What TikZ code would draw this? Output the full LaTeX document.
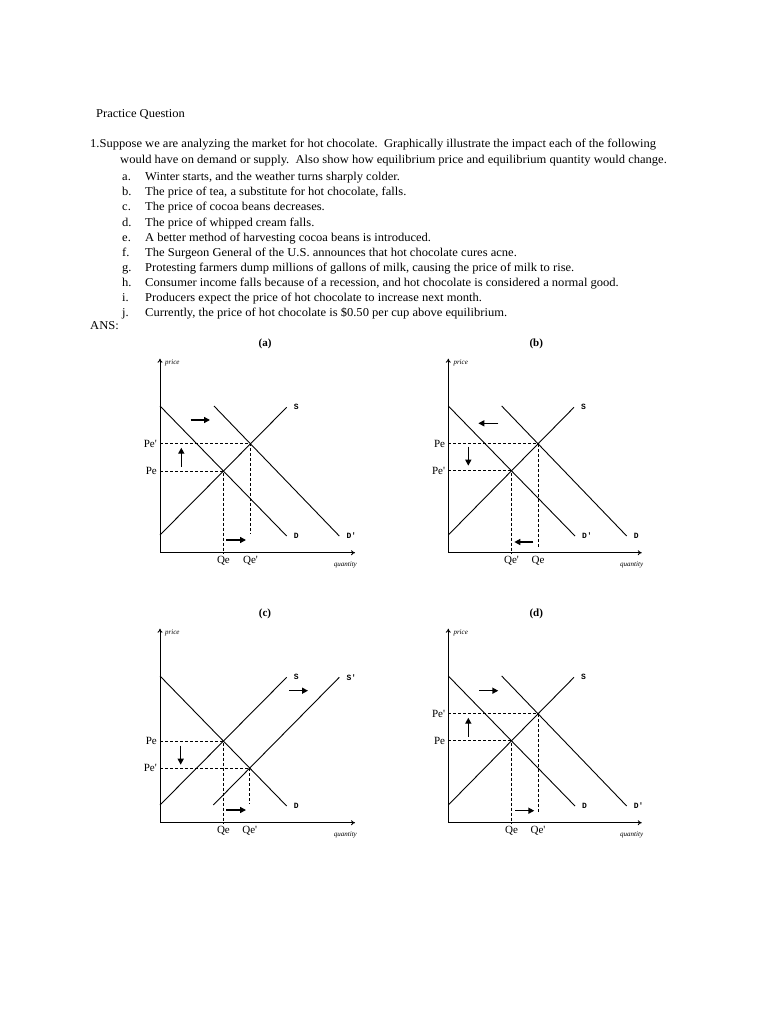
\documentclass[tikz,border=0pt]{standalone}
\usepackage{fontspec}
\setmainfont{Liberation Serif}
\newfontfamily\bodyfont[FakeStretch=1.045]{Liberation Serif}
\newfontfamily\labfont{Liberation Mono}
\usetikzlibrary{arrows.meta,calc,intersections}
\begin{document}
\begin{tikzpicture}[x=1pt,y=-1pt,
  txt/.style={anchor=base west,inner sep=0pt,font=\bodyfont\fontsize{12}{14}\selectfont},
  axisline/.style={line width=0.9pt,{To[length=4pt,width=5pt]}-{To[length=4pt,width=5pt]}},
  curve/.style={line width=0.9pt},
  dshline/.style={line width=0.7pt,dash pattern=on 3pt off 2pt},
  shiftarrow/.style={line width=1.4pt,-{Triangle[length=6pt,width=6pt]}},
  plab/.style={inner sep=0pt,font=\fontsize{11}{12}\selectfont},
  clab/.style={inner sep=0pt,anchor=west,font=\labfont\bfseries\fontsize{8}{8}\selectfont},
  alab/.style={inner sep=0pt,font=\itshape\fontsize{7}{7}\selectfont},
  ttl/.style={inner sep=0pt,font=\bfseries\fontsize{11}{12}\selectfont}]
\useasboundingbox (0,0) rectangle (768,1024);
\fill[white] (0,0) rectangle (768,1024);

% ---------- text ----------
\node[txt] (t0) at (96,118) {Practice Question};
\node[txt] (t1) at (90,147.5) {1.Suppose we are analyzing the market for hot chocolate.\ \ Graphically illustrate the impact each of the following};
\node[txt] (t2) at (120,164) {would have on demand or supply.\ \ Also show how equilibrium price and equilibrium quantity would change.};
\node[txt] (la) at (122,181) {a.};
\node[txt] (ia) at (145,181) {Winter starts, and the weather turns sharply colder.};
\node[txt] (lb) at (122,196) {b.};
\node[txt] (ib) at (145,196) {The price of tea, a substitute for hot chocolate, falls.};
\node[txt] (lc) at (122,211) {c.};
\node[txt] (ic) at (145,211) {The price of cocoa beans decreases.};
\node[txt] (ld) at (122,226) {d.};
\node[txt] (id) at (145,226) {The price of whipped cream falls.};
\node[txt] (le) at (122,241) {e.};
\node[txt] (ie) at (145,241) {A better method of harvesting cocoa beans is introduced.};
\node[txt] (lf) at (122,256) {f.};
\node[txt] (if) at (145,256) {The Surgeon General of the U.S. announces that hot chocolate cures acne.};
\node[txt] (lg) at (122,271) {g.};
\node[txt] (ig) at (145,271) {Protesting farmers dump millions of gallons of milk, causing the price of milk to rise.};
\node[txt] (lh) at (122,286) {h.};
\node[txt] (ih) at (145,286) {Consumer income falls because of a recession, and hot chocolate is considered a normal good.};
\node[txt] (li) at (122,301) {i.};
\node[txt] (ii) at (145,301) {Producers expect the price of hot chocolate to increase next month.};
\node[txt] (lj) at (122,316) {j.};
\node[txt] (ij) at (145,316) {Currently, the price of hot chocolate is \$0.50 per cup above equilibrium.};
\node[txt] (ans) at (90,329) {ANS:};

% ---------- graph (a) ----------
\begin{scope}[shift={(160,552.7)},y=1pt]
\coordinate (aO) at (0,0);
\coordinate (aYt) at (0,194);
\coordinate (aXr) at (195,0);
\draw[axisline] (aYt) -- (aO) -- (aXr);
\coordinate (aD1) at (0,146.7); \coordinate (aD2) at (126.7,16.7);
\coordinate (aE1) at (54,146.7); \coordinate (aE2) at (179.3,16.7);
\coordinate (aS1) at (0,17.7); \coordinate (aS2) at (126.7,145.4);
\draw[curve,name path=aD] (aD1) -- (aD2);
\draw[curve,name path=aE] (aE1) -- (aE2);
\draw[curve,name path=aS] (aS1) -- (aS2);
\path[name intersections={of=aD and aS,by=aQ1}];
\path[name intersections={of=aE and aS,by=aQ2}];
\draw[dshline] (aQ1 -| aO) -- (aQ1) -- (aQ1 |- aO);
\draw[dshline] (aQ2 -| aO) -- (aQ2) -- ($(aQ2 |- aO)+(0,19)$);
\node[plab,anchor=east] (aPe) at ($(aQ1 -| aO)+(-3,0)$) {Pe};
\node[plab,anchor=east] (aPe2) at ($(aQ2 -| aO)+(-3,0)$) {Pe\textquotesingle};
\node[plab,anchor=north] (aQe) at ($(aQ1 |- aO)+(0,-3)$) {Qe};
\node[plab,anchor=north] (aQe2) at ($(aQ2 |- aO)+(0,-3)$) {Qe\textquotesingle};
\node[clab] (aDl) at ($(aD2)+(7,0)$) {D};
\node[clab] (aEl) at ($(aE2)+(7,0)$) {D\textquotesingle};
\node[clab] (aSl) at ($(aS2)+(7,0)$) {S};
\node[alab,anchor=west] (apr) at (5,190) {price};
\node[alab,anchor=east] (aqu) at (197,-12) {quantity};
\node[ttl] (attl) at (105,209) {(a)};
\coordinate (aA1s) at (30.7,132.7); \coordinate (aA1e) at (50,132.7);
\draw[shiftarrow] (aA1s) -- (aA1e);
\coordinate (aA2s) at (21.3,86); \coordinate (aA2e) at (21.3,105);
\draw[shiftarrow] (aA2s) -- (aA2e);
\coordinate (aA3s) at (66,12.7); \coordinate (aA3e) at (86,12.7);
\draw[shiftarrow] (aA3s) -- (aA3e);
\end{scope}

% ---------- graph (b) ----------
\begin{scope}[shift={(448.3,552.7)},y=1pt]
\coordinate (bO) at (0,0);
\coordinate (bYt) at (0,194);
\coordinate (bXr) at (193.4,0);
\draw[axisline] (bYt) -- (bO) -- (bXr);
\coordinate (bD1) at (0,146.7); \coordinate (bD2) at (126.7,16.7);
\coordinate (bE1) at (53.4,146.7); \coordinate (bE2) at (178.4,16.7);
\coordinate (bS1) at (0,17.7); \coordinate (bS2) at (125.7,145.4);
\draw[curve,name path=bD] (bD1) -- (bD2);
\draw[curve,name path=bE] (bE1) -- (bE2);
\draw[curve,name path=bS] (bS1) -- (bS2);
\path[name intersections={of=bD and bS,by=bQ1}];
\path[name intersections={of=bE and bS,by=bQ2}];
\draw[dshline] (bQ1 -| bO) -- (bQ1) -- (bQ1 |- bO);
\draw[dshline] (bQ2 -| bO) -- (bQ2) -- ($(bQ2 |- bO)+(0,6)$);
\node[plab,anchor=east] (bPe) at ($(bQ2 -| bO)+(-3,0)$) {Pe};
\node[plab,anchor=east] (bPe2) at ($(bQ1 -| bO)+(-3,0)$) {Pe\textquotesingle};
\node[plab,anchor=north] (bQe) at ($(bQ2 |- bO)+(0,-3)$) {Qe};
\node[plab,anchor=north] (bQe2) at ($(bQ1 |- bO)+(0,-3)$) {Qe\textquotesingle};
\node[clab] (bDl) at ($(bD2)+(7,0)$) {D\textquotesingle};
\node[clab] (bEl) at ($(bE2)+(7,0)$) {D};
\node[clab] (bSl) at ($(bS2)+(7,0)$) {S};
\node[alab,anchor=west] (bpr) at (5,190) {price};
\node[alab,anchor=east] (bqu) at (195,-12) {quantity};
\node[ttl] (bttl) at (88,209) {(b)};
\coordinate (bA1s) at (50,129.4); \coordinate (bA1e) at (30,129.4);
\draw[shiftarrow] (bA1s) -- (bA1e);
\coordinate (bA2s) at (20,106); \coordinate (bA2e) at (20,87);
\draw[shiftarrow] (bA2s) -- (bA2e);
\coordinate (bA3s) at (85,10.7); \coordinate (bA3e) at (66,10.7);
\draw[shiftarrow] (bA3s) -- (bA3e);
\end{scope}

% ---------- graph (c) ----------
\begin{scope}[shift={(160,822.7)},y=1pt]
\coordinate (cO) at (0,0);
\coordinate (cYt) at (0,194);
\coordinate (cXr) at (195,0);
\draw[axisline] (cYt) -- (cO) -- (cXr);
\coordinate (cD1) at (0,146.7); \coordinate (cD2) at (126.7,16.7);
\coordinate (cS1) at (0,17.7); \coordinate (cS2) at (126.7,145.4);
\coordinate (cT1) at (53.3,17.7); \coordinate (cT2) at (179.3,145.4);
\draw[curve,name path=cD] (cD1) -- (cD2);
\draw[curve,name path=cS] (cS1) -- (cS2);
\draw[curve,name path=cT] (cT1) -- (cT2);
\path[name intersections={of=cD and cS,by=cQ1}];
\path[name intersections={of=cD and cT,by=cQ2}];
\draw[dshline] (cQ1 -| cO) -- (cQ1) -- (cQ1 |- cO);
\draw[dshline] (cQ2 -| cO) -- (cQ2) -- ($(cQ2 |- cO)+(0,19)$);
\node[plab,anchor=east] (cPe) at ($(cQ1 -| cO)+(-3,0)$) {Pe};
\node[plab,anchor=east] (cPe2) at ($(cQ2 -| cO)+(-3,0)$) {Pe\textquotesingle};
\node[plab,anchor=north] (cQe) at ($(cQ1 |- cO)+(0,-3)$) {Qe};
\node[plab,anchor=north] (cQe2) at ($(cQ2 |- cO)+(0,-3)$) {Qe\textquotesingle};
\node[clab] (cDl) at ($(cD2)+(7,0)$) {D};
\node[clab] (cSl) at ($(cS2)+(7,0)$) {S};
\node[clab] (cTl) at ($(cT2)+(7,0)$) {S\textquotesingle};
\node[alab,anchor=west] (cpr) at (5,190) {price};
\node[alab,anchor=east] (cqu) at (197,-12) {quantity};
\node[ttl] (cttl) at (105,209) {(c)};
\coordinate (cA1s) at (129,132); \coordinate (cA1e) at (148,132);
\draw[shiftarrow] (cA1s) -- (cA1e);
\coordinate (cA2s) at (20.7,77); \coordinate (cA2e) at (20.7,58);
\draw[shiftarrow] (cA2s) -- (cA2e);
\coordinate (cA3s) at (66,12.7); \coordinate (cA3e) at (86,12.7);
\draw[shiftarrow] (cA3s) -- (cA3e);
\end{scope}

% ---------- graph (d) ----------
\begin{scope}[shift={(448.3,822.7)},y=1pt]
\coordinate (dO) at (0,0);
\coordinate (dYt) at (0,194);
\coordinate (dXr) at (193.4,0);
\draw[axisline] (dYt) -- (dO) -- (dXr);
\coordinate (dD1) at (0,146.7); \coordinate (dD2) at (126.7,16.7);
\coordinate (dE1) at (53.4,146.7); \coordinate (dE2) at (178.4,16.7);
\coordinate (dS1) at (0,17.7); \coordinate (dS2) at (125.7,145.4);
\draw[curve,name path=dD] (dD1) -- (dD2);
\draw[curve,name path=dE] (dE1) -- (dE2);
\draw[curve,name path=dS] (dS1) -- (dS2);
\path[name intersections={of=dD and dS,by=dQ1}];
\path[name intersections={of=dE and dS,by=dQ2}];
\draw[dshline] (dQ1 -| dO) -- (dQ1) -- (dQ1 |- dO);
\draw[dshline] (dQ2 -| dO) -- (dQ2) -- ($(dQ2 |- dO)+(0,10)$);
\node[plab,anchor=east] (dPe) at ($(dQ1 -| dO)+(-3,0)$) {Pe};
\node[plab,anchor=east] (dPe2) at ($(dQ2 -| dO)+(-3,0)$) {Pe\textquotesingle};
\node[plab,anchor=north] (dQe) at ($(dQ1 |- dO)+(0,-3)$) {Qe};
\node[plab,anchor=north] (dQe2) at ($(dQ2 |- dO)+(0,-3)$) {Qe\textquotesingle};
\node[clab] (dDl) at ($(dD2)+(7,0)$) {D};
\node[clab] (dEl) at ($(dE2)+(7,0)$) {D\textquotesingle};
\node[clab] (dSl) at ($(dS2)+(7,0)$) {S};
\node[alab,anchor=west] (dpr) at (5,190) {price};
\node[alab,anchor=east] (dqu) at (195,-12) {quantity};
\node[ttl] (dttl) at (88,209) {(d)};
\coordinate (dA1s) at (31,132); \coordinate (dA1e) at (50,132);
\draw[shiftarrow] (dA1s) -- (dA1e);
\coordinate (dA2s) at (20,86); \coordinate (dA2e) at (20,105);
\draw[shiftarrow] (dA2s) -- (dA2e);
\coordinate (dA3s) at (66.7,12); \coordinate (dA3e) at (86,12);
\draw[shiftarrow] (dA3s) -- (dA3e);
\end{scope}
\end{tikzpicture}
\end{document}
